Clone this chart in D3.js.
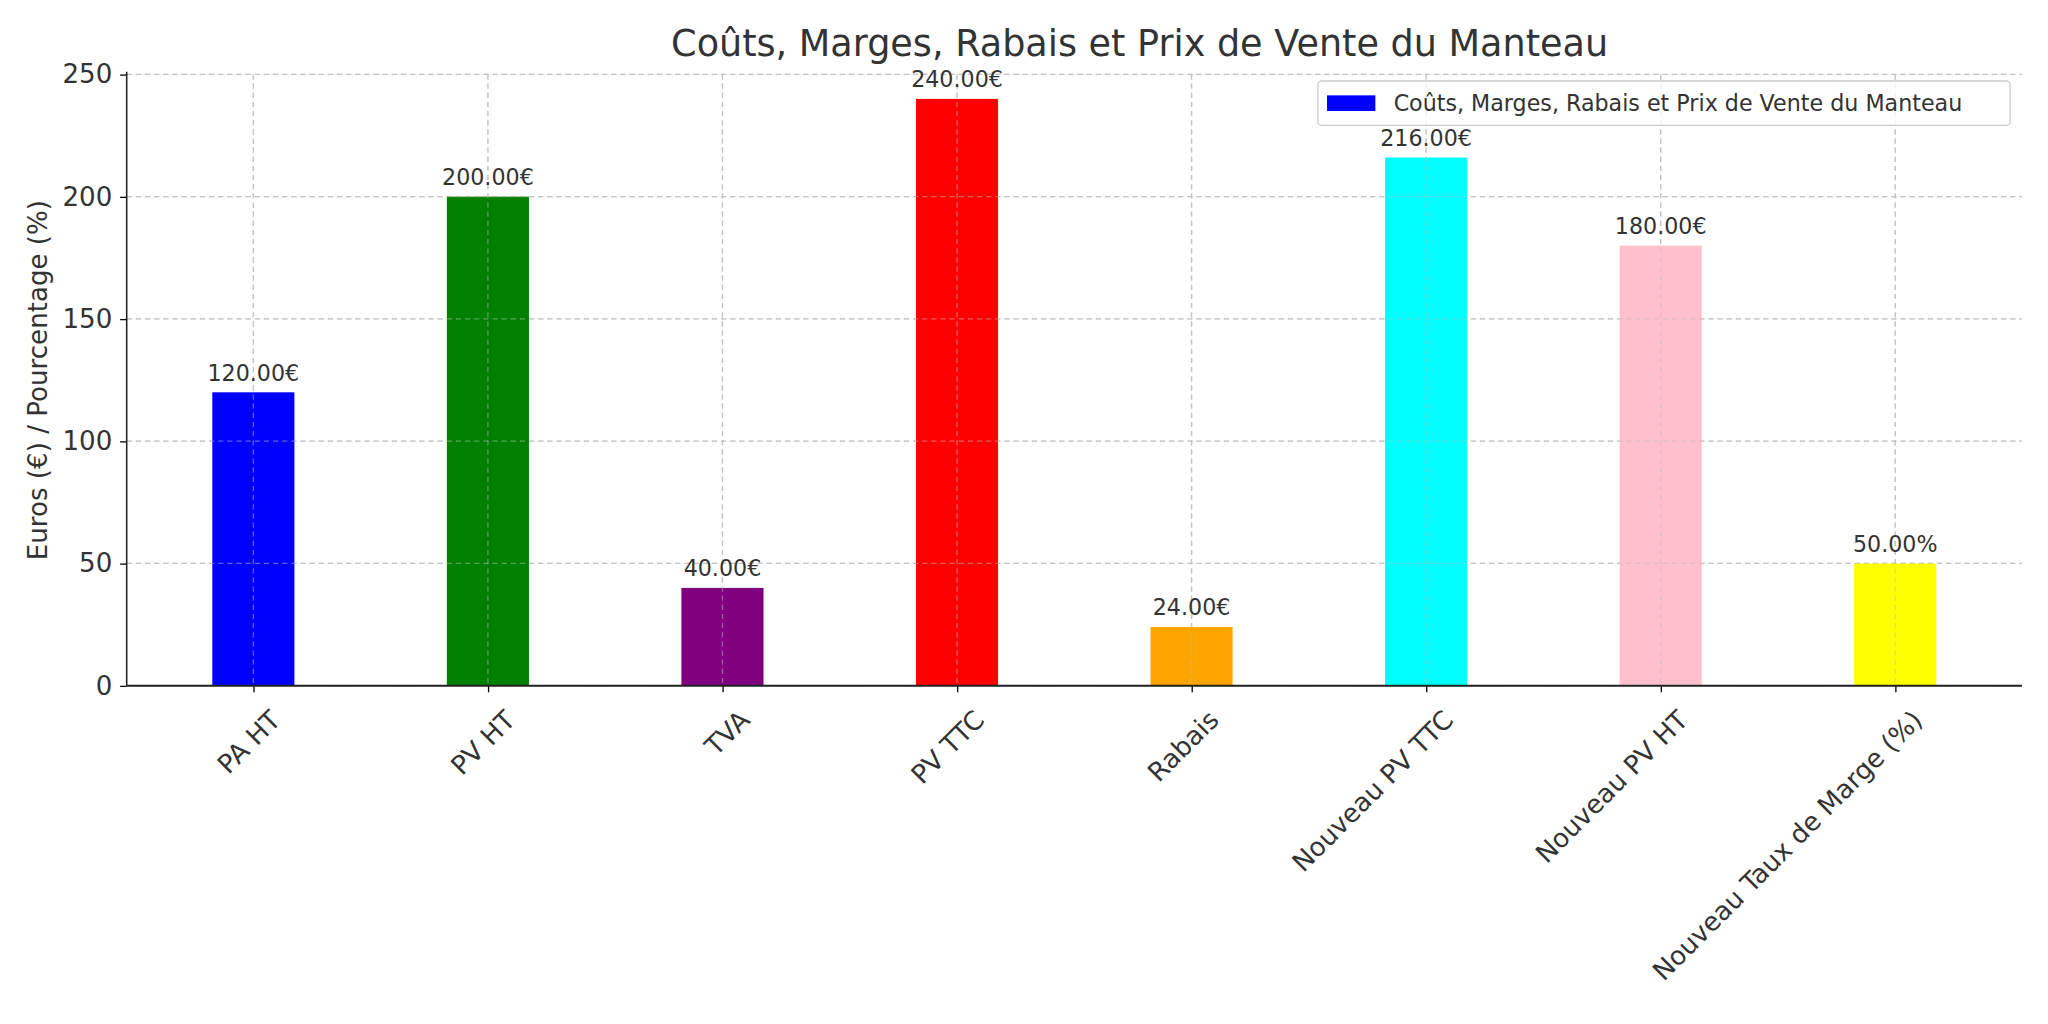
<!DOCTYPE html>
<html><head><meta charset="utf-8">
<script src="https://cdn.jsdelivr.net/npm/d3@7"></script>
<style>body{margin:0;background:#fff}text{font-family:"DejaVu Sans",sans-serif;fill:#333}</style>
</head><body><svg id="c" width="2048" height="1024" viewBox="0 0 1568 784"></svg>
<script>
const categories=["PA HT","PV HT","TVA","PV TTC","Rabais","Nouveau PV TTC","Nouveau PV HT","Nouveau Taux de Marge (%)"];
const values=[120,200,40,240,24,216,180,50];
const valueLabels=["120.00€","200.00€","40.00€","240.00€","24.00€","216.00€","180.00€","50.00%"];
const colors=["blue","green","purple","red","orange","cyan","pink","yellow"];
const yTicks=[0,50,100,150,200,250];
const svg=d3.select("#c");
const L=97,R=1548,T=57,B=525;
const x=d3.scaleLinear().domain([-0.54,7.54]).range([L,R]);
const y=d3.scaleLinear().domain([0,250]).range([B,T]);
const bw=x(0.35)-x(0);
const g=svg.append("g");
// grid
yTicks.forEach(t=>g.append("line").attr("x1",L).attr("x2",R).attr("y1",y(t)).attr("y2",y(t)).attr("stroke","#ccc").attr("stroke-dasharray","4,3"));
categories.forEach((c,i)=>g.append("line").attr("x1",x(i)).attr("x2",x(i)).attr("y1",T).attr("y2",B).attr("stroke","#ccc").attr("stroke-dasharray","4,3"));
g.selectAll("rect.b").data(values).join("rect").attr("x",(d,i)=>x(i)-bw/2).attr("width",bw).attr("y",d=>y(d)).attr("height",d=>B-y(d)).attr("fill",(d,i)=>colors[i]);
// regrid over bars (matplotlib grid drawn above)
yTicks.forEach(t=>g.append("line").attr("x1",L).attr("x2",R).attr("y1",y(t)).attr("y2",y(t)).attr("stroke","#bbb").attr("stroke-opacity",0.5).attr("stroke-dasharray","4,3"));
categories.forEach((c,i)=>g.append("line").attr("x1",x(i)).attr("x2",x(i)).attr("y1",T).attr("y2",B).attr("stroke","#bbb").attr("stroke-opacity",0.5).attr("stroke-dasharray","4,3"));
g.selectAll("text.v").data(values).join("text").attr("x",(d,i)=>x(i)).attr("y",d=>y(d)-9).attr("text-anchor","middle").attr("font-size",17).text((d,i)=>valueLabels[i]);
// axes
const ya=svg.append("g").attr("transform",`translate(${L},0)`).call(d3.axisLeft(y).tickValues(yTicks).tickSize(5).tickPadding(6));
ya.select(".domain").remove();
ya.selectAll("text").attr("font-size",20);
svg.append("line").attr("x1",L).attr("x2",L).attr("y1",T-2).attr("y2",B).attr("stroke","#222").attr("stroke-width",1.2);
const xa=svg.append("g").attr("transform",`translate(0,${B})`).call(d3.axisBottom(x).tickValues(d3.range(8)).tickFormat(i=>categories[i]).tickSize(5).tickSizeOuter(0));
xa.select(".domain").remove();
xa.selectAll("text").attr("font-size",20).attr("text-anchor","end").attr("transform","translate(6,12) rotate(-45)").attr("dy","0.7em");
svg.append("line").attr("x1",L).attr("x2",R).attr("y1",B).attr("y2",B).attr("stroke","#222").attr("stroke-width",1.5);
svg.append("text").attr("x",(L+R)/2+50).attr("y",43).attr("text-anchor","middle").attr("font-size",28).text("Coûts, Marges, Rabais et Prix de Vente du Manteau");
svg.append("text").attr("transform",`translate(36,${(T+B)/2}) rotate(-90)`).attr("text-anchor","middle").attr("font-size",20).text("Euros (€) / Pourcentage (%)");
const lg=svg.append("g");
lg.append("rect").attr("x",1009).attr("y",62).attr("width",530).attr("height",34).attr("rx",3).attr("fill","#fff").attr("fill-opacity",0.8).attr("stroke","#ccc");
lg.append("rect").attr("x",1016).attr("y",73).attr("width",37).attr("height",12).attr("fill","blue");
lg.append("text").attr("x",1067).attr("y",85).attr("font-size",17).text("Coûts, Marges, Rabais et Prix de Vente du Manteau");
</script></body></html>
